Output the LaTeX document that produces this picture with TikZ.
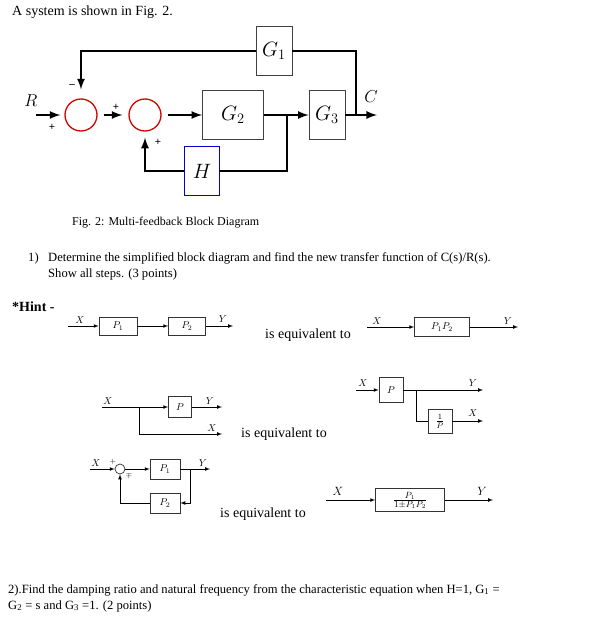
\documentclass[tikz,border=0pt]{standalone}
\usepackage{fontspec}
\setmainfont{Liberation Serif}
\usepackage{amsmath}

\tikzset{
  wire/.style={line width=2.6pt},
  sig/.style={wire, -latex},
  gbox/.style={draw=black!75, line width=0.8pt, minimum width=36pt, minimum height=49pt, inner sep=0pt, font=\fontsize{22}{24}\selectfont},
  hbox/.style={gbox, draw=blue!80!black, line width=1.3pt, minimum width=35pt},
  sumc/.style={circle, draw=red!85!black, line width=1.3pt, minimum size=32pt, inner sep=0pt},
  sgn/.style={inner sep=0pt, font=\bfseries\fontsize{11}{12}\selectfont},
  tsig/.style={line width=0.7pt, -latex},
  twire/.style={line width=0.7pt},
  pbox/.style={draw=black!80, line width=0.7pt, inner sep=0pt, font=\fontsize{10}{12}\selectfont},
  lbl/.style={inner sep=0pt, font=\fontsize{10}{12}\selectfont},
  txt/.style={anchor=base west, inner sep=0pt, font=\fontsize{14}{17}\selectfont},
  qtxt/.style={txt, font=\fontsize{12.6}{15}\selectfont},
}

\begin{document}
\begin{tikzpicture}[x=1pt, y=-1pt]
\useasboundingbox (0,0) rectangle (599,632);
\node[txt] (title) at (12,15) {A system is shown in Fig. 2.}; % heading

% main block diagram
\coordinate (R) at (36,115);
\coordinate (C) at (377,115);
\coordinate (br1) at (287,115);
\coordinate (br2) at (356,115);
\node[sumc] (S1) at (81,115) {};
\node[sumc] (S2) at (145,115) {};
\node[gbox, minimum width=61pt] (G2) at (233,115) {$G_2$};
\node[gbox] (G3) at (327,115) {$G_3$};
\node[gbox] (G1) at (274,51) {$G_1$};
\node[hbox] (H) at (202,171) {$H$};
\node[inner sep=0pt, font=\fontsize{16}{18}\selectfont] (lR) at (31,101) {$R$};
\node[inner sep=0pt, font=\fontsize{16}{18}\selectfont] (lC) at (371,97) {$C$};
\node[sgn] (m1) at (72,86) {--};
\node[sgn] (p1) at (52,127) {+};
\node[sgn] (p2) at (116,107) {+};
\node[sgn] (p3) at (158,142) {+};
\draw[sig, shorten >=4pt] (R) -- (S1); % input
\draw[sig, shorten <=6pt, shorten >=6pt] (S1) -- (S2);
\draw[sig, shorten <=6pt] (S2) -- (G2);
\draw[sig] (G2) -- (G3);
\draw[sig] (G3) -- (C); % output
\draw[wire] (br2) |- (G1); % outer loop
\draw[sig, shorten >=9pt] (G1) -| (S1);
\draw[wire] (br1) |- (H); % inner loop
\draw[sig, shorten >=6pt] (H) -| (S2);
\node[anchor=base west, inner sep=0pt, font=\fontsize{12}{14}\selectfont] (cap) at (72,225) {Fig. 2: Multi-feedback Block Diagram};

% questions
\node[qtxt] (q1n) at (28,261) {1)};
\node[qtxt] (q1a) at (48,261) {Determine the simplified block diagram and find the new transfer function of C(s)/R(s).};
\node[qtxt] (q1b) at (48,277) {Show all steps. (3 points)};
\node[txt] (hint) at (12,311) {\textbf{*Hint -}};

% hint 1: blocks in series
\coordinate (a1) at (68,326);
\coordinate (a2) at (233,326);
\node[pbox, minimum width=38pt, minimum height=18pt] (P1a) at (118,326) {$P_1$};
\node[pbox, minimum width=37pt, minimum height=18pt] (P2a) at (187,326) {$P_2$};
\node[lbl] (Xa) at (80,320) {$X$};
\node[lbl] (Ya) at (223,319) {$Y$};
\draw[tsig] (a1) -- (P1a);
\draw[tsig] (P1a) -- (P2a);
\draw[tsig] (P2a) -- (a2);
\node[txt] (eq1) at (265,338) {is equivalent to};
\coordinate (b1) at (367,327);
\coordinate (b2) at (518,327);
\node[pbox, minimum width=55pt, minimum height=19pt] (PPb) at (442,327) {$P_1P_2$};
\node[lbl] (Xb) at (377,321) {$X$};
\node[lbl] (Yb) at (508,321) {$Y$};
\draw[tsig] (b1) -- (PPb);
\draw[tsig] (PPb) -- (b2);

% hint 2: moving a pickoff point
\coordinate (c1) at (102,407);
\coordinate (c2) at (139,407);
\coordinate (c3) at (222,407);
\coordinate (c4) at (222,434);
\node[pbox, minimum width=23pt, minimum height=21pt] (Pc) at (180,407) {$P$};
\node[lbl] (Xc) at (108,401) {$X$};
\node[lbl] (Yc) at (210,401) {$Y$};
\node[lbl] (Xc2) at (212,428) {$X$};
\draw[tsig] (c1) -- (Pc);
\draw[tsig] (Pc) -- (c3);
\draw[tsig] (c2) |- (c4);
\node[txt] (eq2) at (241,437) {is equivalent to};
\coordinate (d1) at (356,390);
\coordinate (d2) at (416,390);
\coordinate (d3) at (483,390);
\coordinate (d4) at (483,421);
\node[pbox, minimum width=24pt, minimum height=25pt] (Pd) at (391,390) {$P$};
\node[pbox, minimum width=24pt, minimum height=24pt, font=\fontsize{12}{14}\selectfont] (Qd) at (440,421) {$\frac{1}{P}$};
\node[lbl] (Xd) at (363,383) {$X$};
\node[lbl] (Yd) at (473,383) {$Y$};
\node[lbl] (Xd2) at (473,413) {$X$};
\draw[tsig] (d1) -- (Pd);
\draw[tsig] (Pd) -- (d3);
\draw[twire] (d2) |- (Qd);
\draw[tsig] (Qd) -- (d4);

% hint 3: feedback loop
\coordinate (e1) at (90,469);
\coordinate (e2) at (190,469);
\coordinate (e3) at (210,469);
\node[circle, draw=black!80, line width=0.7pt, minimum size=10pt, inner sep=0pt] (Se) at (120,469) {};
\node[pbox, minimum width=30pt, minimum height=20pt] (P1e) at (165,469) {$P_1$};
\node[pbox, minimum width=30pt, minimum height=20pt] (P2e) at (165,503) {$P_2$};
\node[lbl] (Xe) at (96,463) {$X$};
\node[lbl] (Ye) at (203,463) {$Y$};
\node[inner sep=0pt, font=\scriptsize] (pe) at (113,462) {$+$};
\node[inner sep=0pt, font=\scriptsize] (me) at (129,476) {$\mp$};
\draw[tsig] (e1) -- (Se);
\draw[tsig] (Se) -- (P1e);
\draw[tsig] (P1e) -- (e3);
\draw[tsig] (e2) |- (P2e);
\draw[tsig] (P2e) -| (Se);
\node[txt] (eq3) at (220,517) {is equivalent to};
\coordinate (f1) at (326,500);
\coordinate (f2) at (493,500);
\node[pbox, minimum width=69pt, minimum height=23pt, inner ysep=1pt, font=\fontsize{13}{15}\selectfont] (Pf) at (410,500) {$\frac{P_1}{1\pm P_1P_2}$};
\node[inner sep=0pt, font=\fontsize{12}{14}\selectfont] (Xf) at (338,491) {$X$};
\node[inner sep=0pt, font=\fontsize{12}{14}\selectfont] (Yf) at (482,491) {$Y$};
\draw[tsig] (f1) -- (Pf);
\draw[tsig] (Pf) -- (f2);

\node[qtxt] (q2a) at (8,593) {2).Find the damping ratio and natural frequency from the characteristic equation when H=1, G\textsubscript{1} =};
\node[qtxt] (q2b) at (8,609) {G\textsubscript{2} = s and G\textsubscript{3} =1. (2 points)};
\end{tikzpicture}
\end{document}
